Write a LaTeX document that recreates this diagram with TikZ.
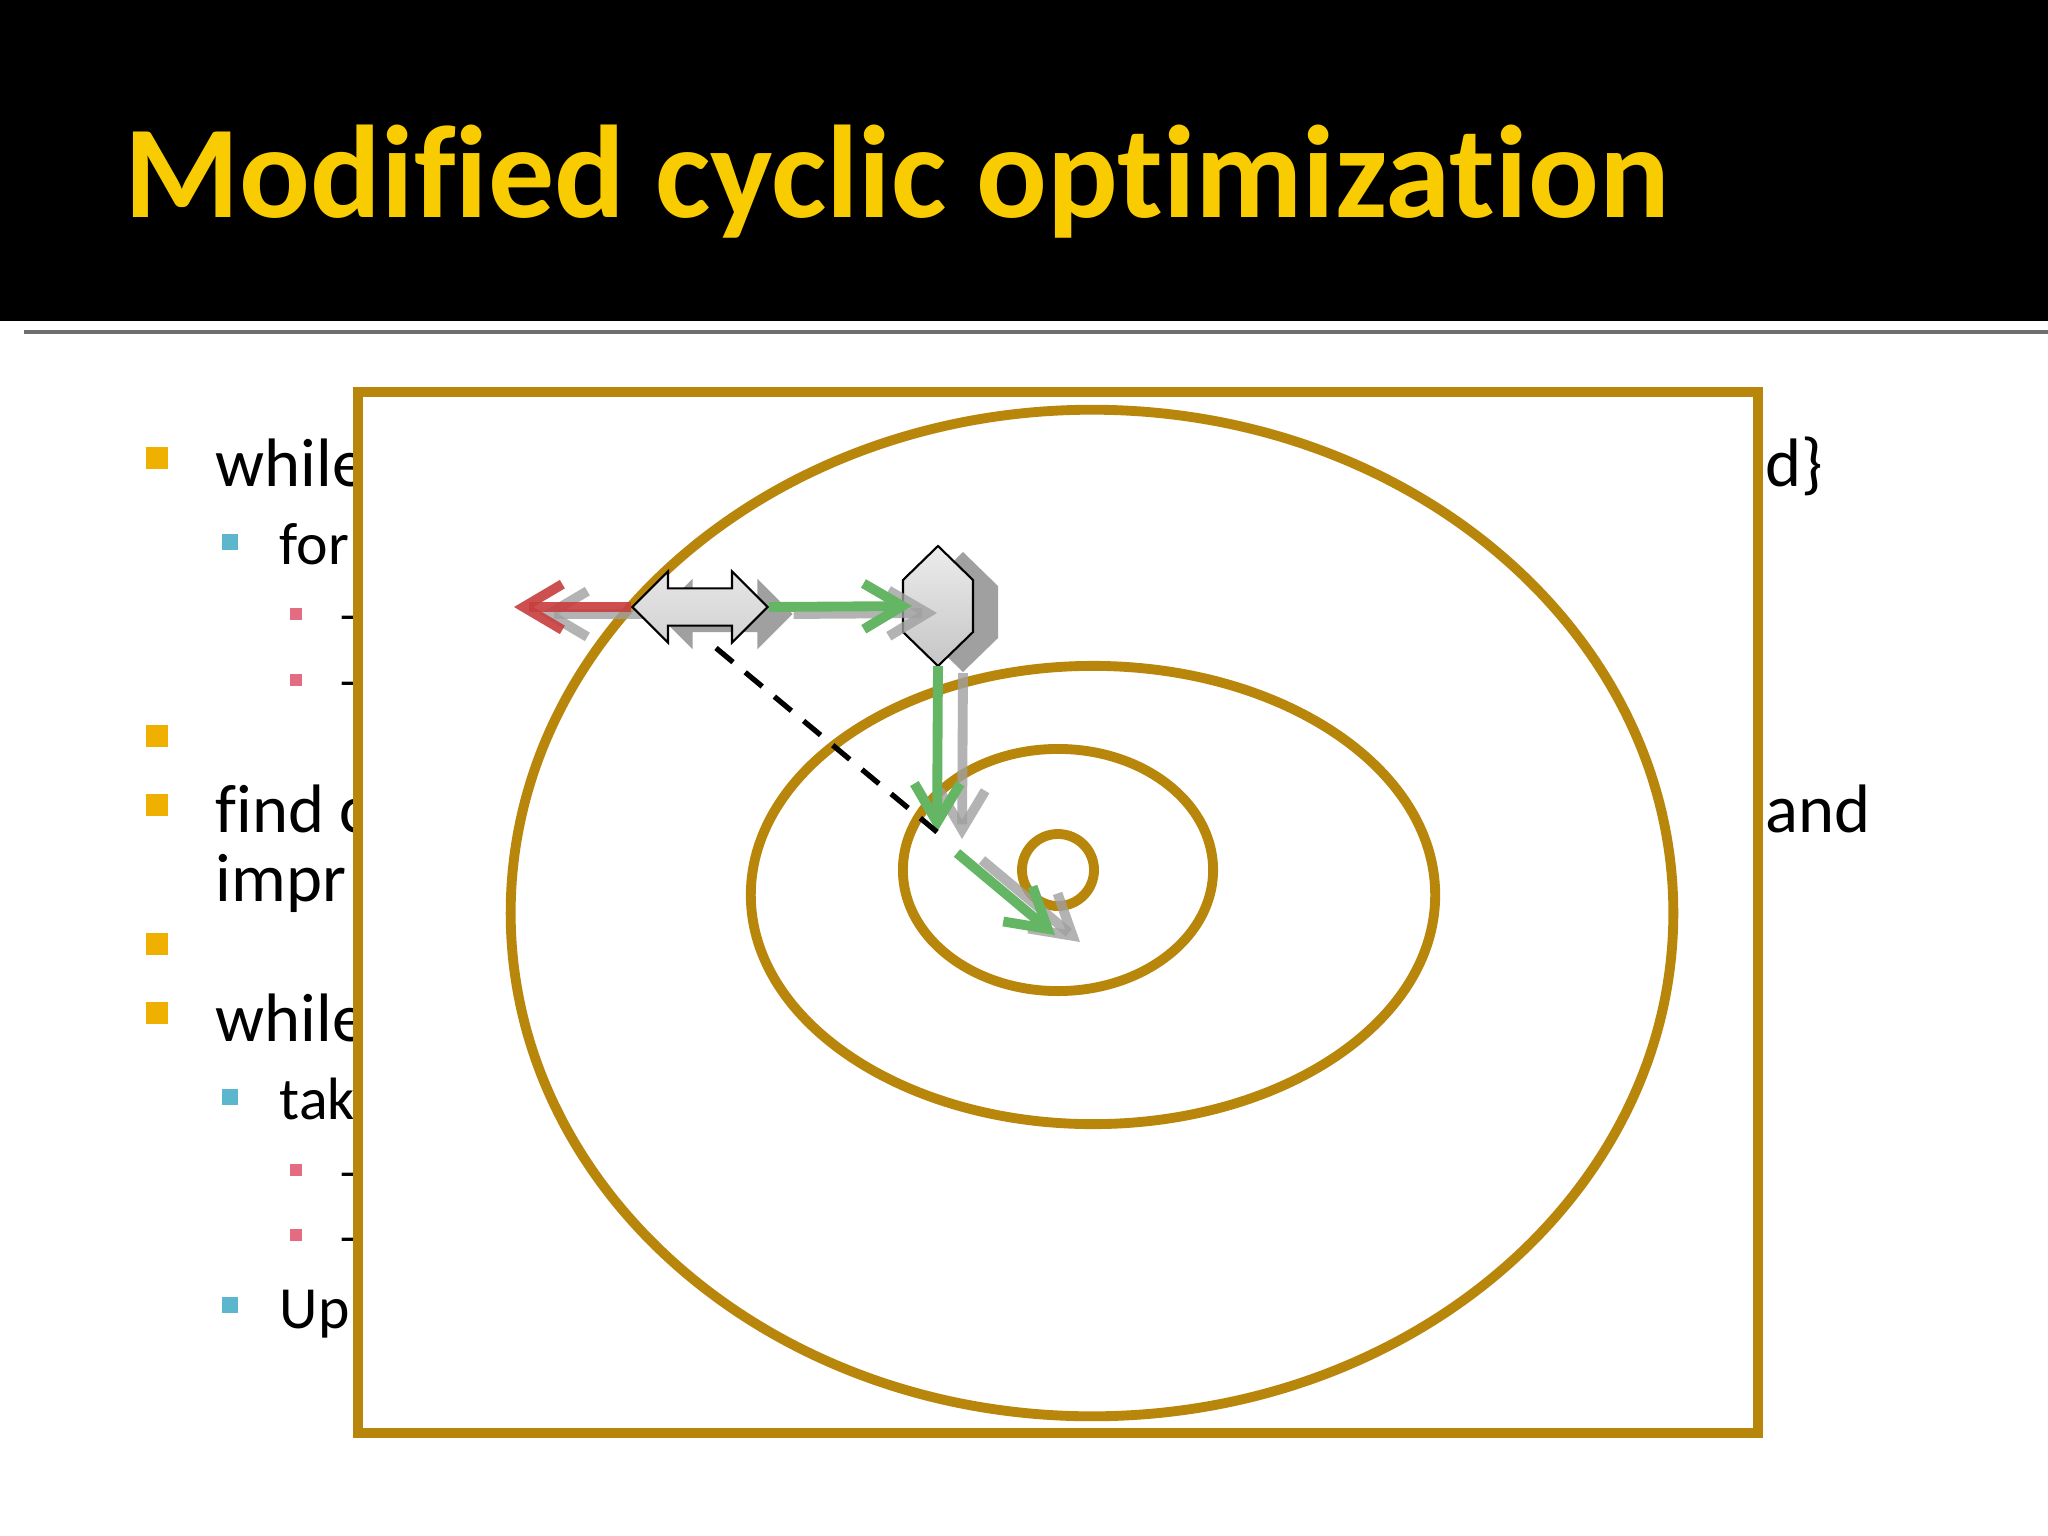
\documentclass[tikz,border=0pt]{standalone}
\usepackage{fontspec}
\setmainfont{Carlito}[Ligatures=NoCommon]
\definecolor{ringgold}{RGB}{184,134,11}
\definecolor{titleyellow}{RGB}{248,204,0}
\definecolor{bulletorange}{RGB}{240,176,0}
\definecolor{bulletblue}{RGB}{92,182,205}
\definecolor{bulletpink}{RGB}{228,108,128}
\definecolor{stepred}{RGB}{200,62,62}
\definecolor{stepgreen}{RGB}{100,182,100}
\definecolor{ghostgray}{RGB}{160,160,160}
\definecolor{rulegray}{RGB}{110,110,110}
\usetikzlibrary{calc,shapes.arrows,arrows.meta}

\begin{document}
\begin{tikzpicture}[x=0.01cm,y=-0.01cm,
  ring/.style={draw=ringgold, line width=2.8pt},
  move/.style={line width=2.8pt, -{Straight Barb[length=11pt,width=13pt]}},
  ghostmove/.style={move, ghostgray, opacity=0.8},
  lvlone/.style={anchor=base west, inner sep=0, font=\fontsize{19.5}{23}\selectfont},
  lvltwo/.style={anchor=base west, inner sep=0, font=\fontsize{17}{20}\selectfont},
  lvlthree/.style={anchor=base west, inner sep=0, font=\fontsize{15}{18}\selectfont},
  sqone/.style={fill=bulletorange, minimum size=0.22cm, inner sep=0},
  sqtwo/.style={fill=bulletblue, minimum size=0.165cm, inner sep=0},
  sqthree/.style={fill=bulletpink, minimum size=0.125cm, inner sep=0},
  dblbox/.style={double arrow, minimum height=1.35cm, inner xsep=0, inner ysep=0.175cm,
    double arrow head extend=0.17cm, double arrow tip angle=90}]
  \useasboundingbox (0,0) rectangle (2048,1536);
  \fill[white] (0,0) rectangle (2048,1536);
  \fill[black] (0,0) rectangle (2048,321);
  \draw[rulegray, line width=0.9pt] (24,332) -- (2048,332);
  \node[anchor=base west, inner sep=0, text=titleyellow,
    font=\fontsize{37.5}{40}\selectfont\bfseries] (title) at (124,217) {Modified cyclic optimization};

  \foreach \y in {458,736,805,944,1013} \node[sqone] (ob\y) at (157,\y) {};
  \foreach \y in {542,1097,1305} \node[sqtwo] (bb\y) at (230,\y) {};
  \foreach \y in {614,680,1170,1235} \node[sqthree] (pb\y) at (296,\y) {};
  \node[lvlone] (while1) at (215,486) {while};
  \node[lvltwo] (for1) at (279,564) {for};
  \node[lvlthree] (dash1) at (338,632) {–};
  \node[lvlthree] (dash2) at (338,698) {–};
  \node[lvlone] (find) at (215,832) {find c};
  \node[lvlone] (impr) at (215,901) {impr};
  \node[lvlone] (while2) at (215,1041) {while};
  \node[lvltwo] (take) at (279,1119) {tak};
  \node[lvlthree] (dash3) at (338,1189) {–};
  \node[lvlthree] (dash4) at (338,1254) {–};
  \node[lvltwo] (upd) at (279,1328) {Up};
  \node[lvlone] (tail1) at (1765,486) {d\}};
  \node[lvlone] (tail2) at (1765,832) {and};

  \draw[ring, fill=white] (358,392) rectangle (1758,1433);
  \draw[ring] (1092,913) ellipse [x radius=5.81cm, y radius=5.03cm];
  \draw[ring] (1093,895) ellipse [x radius=3.42cm, y radius=2.29cm];
  \draw[ring] (1058,870) ellipse [x radius=1.55cm, y radius=1.21cm];
  \draw[ring] (1058,870) circle (0.36cm);

  \coordinate (hex) at (938,606);
  \coordinate (redtip) at (514,607);
  \coordinate (hexW) at (912,606);
  \coordinate (hexS) at (938,666);
  \coordinate (drop) at (937,832);
  \coordinate (slide) at (957,853);
  \coordinate (goal) at (1055,935);
  \coordinate (dashA) at (716,648);

  \fill[ghostgray] ($(hex)+(25,-54)$) -- ++(35,34) -- ++(0,52) -- ++(-35,34) -- ++(-35,-34) -- ++(0,-52) -- cycle;
  \draw[black, line width=0.6pt, top color=gray!15, bottom color=gray!45]
    ($(hex)+(0,-60)$) -- ++(35,34) -- ++(0,52) -- ++(-35,34) -- ++(-35,-34) -- ++(0,-52) -- cycle;
  \node[dblbox, fill=ghostgray] (dblghost) at (725,614) {};
  \draw[ghostmove] (dblghost.west) -- ([shift={(25,7)}]redtip);
  \draw[ghostmove] (dblghost.east) -- ([shift={(25,7)}]hexW);
  \foreach \a/\b in {hexS/drop, slide/goal}
    \draw[ghostmove] ([shift={(25,7)}]\a) -- ([shift={(25,7)}]\b);
  \node[dblbox, draw=black, line width=0.6pt, top color=gray!20, middle color=gray!4, bottom color=gray!35] (dbl) at (700,607) {};

  \draw[move, stepred, opacity=0.9] (dbl.west) -- (redtip);
  \draw[move, stepgreen] (dbl.east) -- (hexW);
  \draw[move, stepgreen] (hexS) -- (drop);
  \draw[move, stepgreen] (slide) -- (goal);
  \draw[black, line width=1.5pt, dash pattern=on 6.3pt off 4.5pt] (dashA) -- (drop);
\end{tikzpicture}
\end{document}
